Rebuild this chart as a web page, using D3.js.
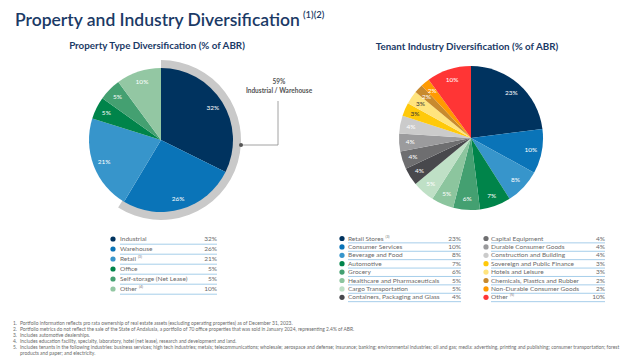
<!DOCTYPE html>
<html>
<head>
<meta charset="utf-8">
<script src="https://cdn.jsdelivr.net/npm/d3@7"></script>
<style>
  body { margin: 0; background: #fff; }
  svg { display: block; font-family: Lato, "Open Sans", sans-serif; }
</style>
</head>
<body>
<script>
let propCats = ["Industrial", "Warehouse", "Retail", "Office", "Self-storage (Net Lease)", "Other"];
let propNotes = ["", "", "(3)", "", "", "(4)"];
let propVals = [32, 26, 21, 5, 5, 10];
let propColors = ["#00335f", "#0a74b8", "#3795cb", "#00844a", "#44a071", "#93c7a3"];

let tenantCats = ["Retail Stores", "Consumer Services", "Beverage and Food", "Automotive", "Grocery",
  "Healthcare and Pharmaceuticals", "Cargo Transportation", "Containers, Packaging and Glass",
  "Capital Equipment", "Durable Consumer Goods", "Construction and Building", "Sovereign and Public Finance",
  "Hotels and Leisure", "Chemicals, Plastics and Rubber", "Non-Durable Consumer Goods", "Other"];
let tenantNotes = ["(3)", "", "", "", "", "", "", "", "", "", "", "", "", "", "", "(5)"];
let tenantVals = [23, 10, 8, 7, 6, 5, 5, 4, 4, 4, 4, 3, 3, 2, 2, 10];
let tenantColors = ["#00335f", "#0a74b8", "#3795cb", "#00844a", "#44a071", "#8cc59e", "#bfe0c6",
  "#48484c", "#6e6e70", "#9b9b9d", "#cbcbcb", "#ffc90a", "#ffe47e", "#c88a2e", "#ff9a00", "#ff3535"];
let darkLabel = ["#ffe47e", "#ffc90a"];

let calloutPct = "59%";
let calloutText = "Industrial / Warehouse";
let calloutShare = 59;

let footnotes = [
  "Portfolio information reflects pro rata ownership of real estate assets (excluding operating properties) as of December 31, 2023.",
  "Portfolio metrics do not reflect the sale of the State of Andalusia, a portfolio of 70 office properties that was sold in January 2024, representing 2.4% of ABR.",
  "Includes automotive dealerships.",
  "Includes education facility, specialty, laboratory, hotel (net lease), research and development and land.",
  "Includes tenants in the following industries: business services; high tech industries; metals; telecommunications; wholesale; aerospace and defense; insurance; banking; environmental industries; oil and gas; media: advertising, printing and publishing; consumer transportation; forest",
  "products and paper; and electricity."
];

let W = 640, H = 361;
let navy = "#1b3a66";
let svg = d3.select("body").append("svg").attr("width", W).attr("height", H);

// title
svg.append("text").attr("x", 15).attr("y", 26)
  .attr("fill", navy).attr("font-size", 17.5).attr("font-weight", 600)
  .text("Property and Industry Diversification");
svg.append("text").attr("x", 303).attr("y", 18).attr("fill", navy)
  .attr("font-size", 9.5).attr("font-weight", 600).text("(1)(2)");

svg.append("text").attr("x", 157).attr("y", 49).attr("text-anchor", "middle")
  .attr("fill", navy).attr("font-size", 9.8).attr("font-weight", 700)
  .text("Property Type Diversification (% of ABR)");
svg.append("text").attr("x", 467).attr("y", 50).attr("text-anchor", "middle")
  .attr("fill", navy).attr("font-size", 9.8).attr("font-weight", 700)
  .text("Tenant Industry Diversification (% of ABR)");

let pie = d3.pie().sort(null).value(d => d);
let R = 72;

let DrawPie = (cx, cy, vals, colors) =>
{
  let g = svg.append("g").attr("transform", "translate(" + cx + "," + cy + ")");
  let arc = d3.arc().innerRadius(0).outerRadius(R);
  let labelArc = d3.arc().innerRadius(61).outerRadius(61);
  let arcs = pie(vals);
  g.selectAll("path").data(arcs).enter().append("path")
    .attr("d", arc)
    .attr("fill", (d, i) => colors[i]);
  g.selectAll("text").data(arcs).enter().append("text")
    .attr("transform", d => "translate(" + labelArc.centroid(d) + ")")
    .attr("text-anchor", "middle").attr("dy", "0.35em")
    .attr("font-size", 6.5)
    .attr("fill", (d, i) => darkLabel.includes(colors[i]) ? "#333" : "#fff")
    .text(d => d.data + "%");
  return g;
}

// left pie with grey bracket arc
let leftG = DrawPie(161, 140, propVals, propColors);
leftG.insert("path", ":first-child")
  .attr("d", d3.arc().innerRadius(R - 2).outerRadius(80)
    .startAngle(0).endAngle(2 * Math.PI * calloutShare / 100)())
  .attr("fill", "#c9c9c9");

// callout
svg.append("path").attr("d", "M241,145 H278 V101")
  .attr("fill", "none").attr("stroke", "#8a8a8a").attr("stroke-width", 0.8);
svg.append("circle").attr("cx", 241).attr("cy", 145).attr("r", 2).attr("fill", "#555");
svg.append("text").attr("x", 279).attr("y", 84).attr("text-anchor", "middle")
  .attr("font-size", 6.5).attr("font-weight", 700).attr("fill", "#555").text(calloutPct);
svg.append("text").attr("x", 279).attr("y", 93).attr("text-anchor", "middle")
  .attr("font-size", 6.5).attr("font-weight", 700).attr("fill", "#555").text(calloutText);

DrawPie(471, 138, tenantVals, tenantColors);

// legends
let DrawLegend = (cats, notes, vals, colors, dotX, textX, valX, y0, step) =>
{
  let g = svg.append("g");
  let rows = g.selectAll("g").data(cats).enter().append("g")
    .attr("transform", (d, i) => "translate(0," + (y0 + i * step) + ")");
  rows.append("circle").attr("cx", dotX).attr("cy", 0).attr("r", 2.6)
    .attr("fill", (d, i) => colors[i]);
  let t = rows.append("text").attr("x", textX).attr("y", 0).attr("dy", "0.33em")
    .attr("font-size", 6.5).attr("fill", "#6a6a6a");
  t.append("tspan").text(d => d);
  t.append("tspan").attr("font-size", 3.5).attr("dy", "-0.9em").attr("dx", 2)
    .text((d, i) => notes[i]);
  rows.append("text").attr("x", valX).attr("y", 0).attr("dy", "0.33em")
    .attr("text-anchor", "end").attr("font-size", 6.5).attr("fill", "#6a6a6a")
    .text((d, i) => vals[i] + "%");
  rows.append("line").attr("x1", textX).attr("x2", valX)
    .attr("y1", step * 0.52).attr("y2", step * 0.52)
    .attr("stroke", "#8fc2e4").attr("stroke-width", 0.8);
}

DrawLegend(propCats, propNotes, propVals, propColors, 113, 120, 217, 239, 10);
DrawLegend(tenantCats.slice(0, 8), tenantNotes.slice(0, 8), tenantVals.slice(0, 8), tenantColors.slice(0, 8),
  342, 348, 461, 238.5, 8.4);
DrawLegend(tenantCats.slice(8), tenantNotes.slice(8), tenantVals.slice(8), tenantColors.slice(8),
  486, 491, 605, 238.5, 8.4);

// footnotes
let fn = svg.append("g").attr("font-size", 4.9).attr("fill", "#6a6a6a");
footnotes.forEach((f, i) =>
{
  let yy = 325 + i * 6;
  if (i < 5) fn.append("text").attr("x", 13).attr("y", yy).text((i + 1) + ".");
  fn.append("text").attr("x", 20).attr("y", yy).text(f);
});
</script>
</body>
</html>
